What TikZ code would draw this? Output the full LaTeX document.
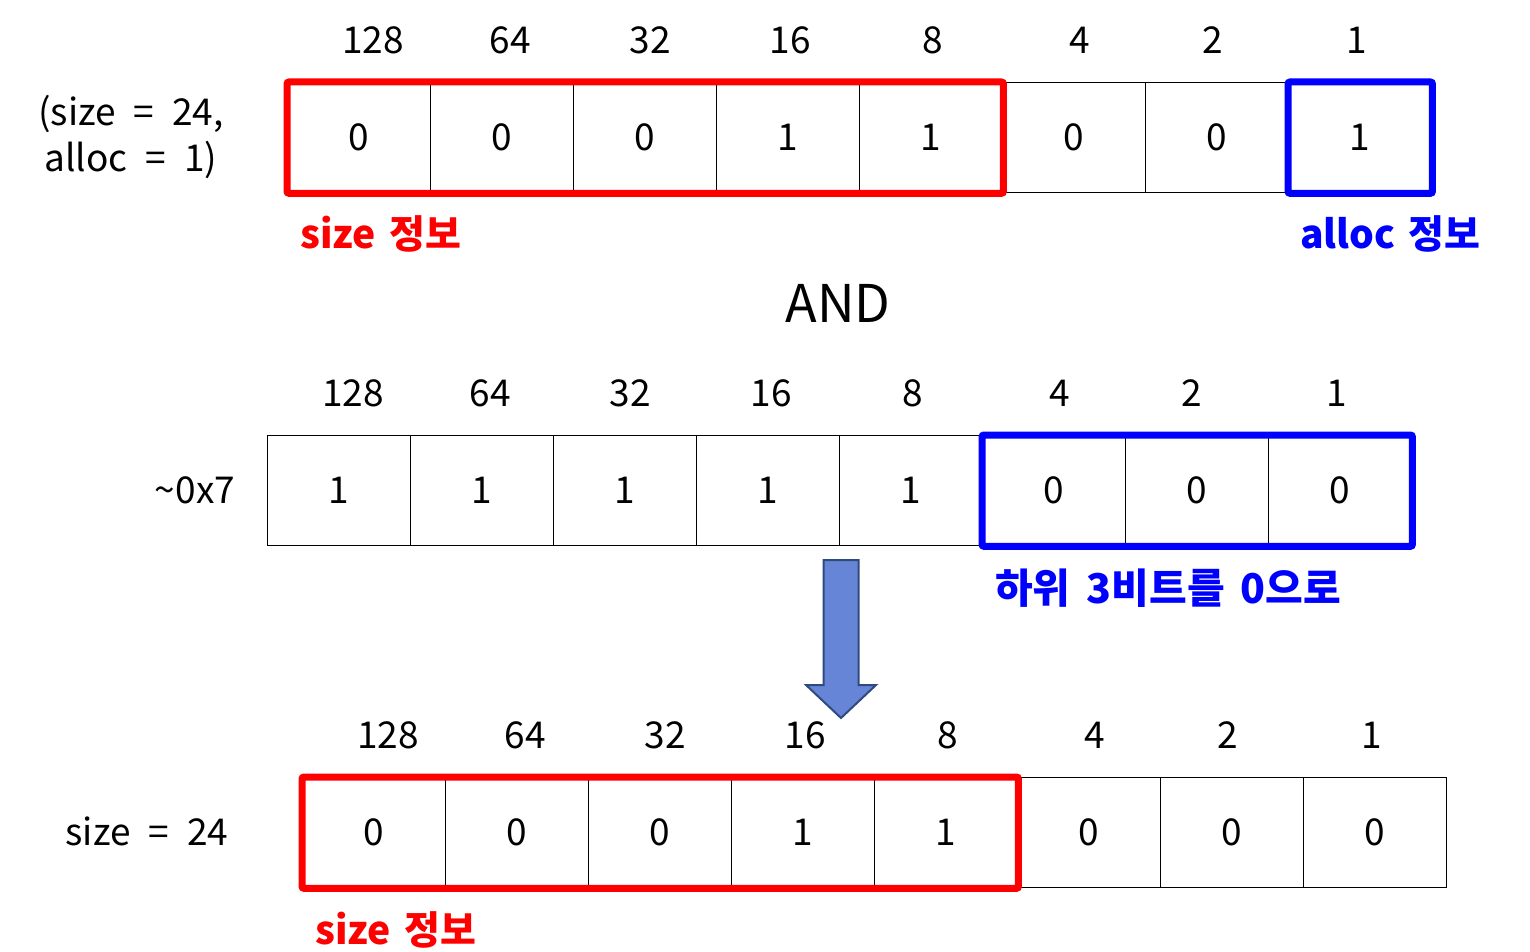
\documentclass[tikz,border=0pt]{standalone}
\usepackage{fontspec}
\setmainfont{Noto Sans CJK KR}
\usetikzlibrary{calc}
\definecolor{myred}{RGB}{255,0,0}
\definecolor{myblue}{RGB}{0,0,255}
\definecolor{arrfill}{RGB}{102,133,214}
\definecolor{arrdraw}{RGB}{47,74,128}
\newcommand{\wsp}{\hspace{13pt}}
\newcommand{\wspb}{\hspace{16pt}}
\newcommand{\esp}{\hspace{18pt}}
\tikzset{
  cell/.style={draw=black, line width=1.3pt, minimum width=143.1pt, minimum height=110pt, inner sep=0pt, anchor=north west, font=\fontsize{37}{40}\selectfont},
  bitnum/.style={font=\fontsize{37}{40}\selectfont, inner sep=0pt},
  lbl/.style={font=\fontsize{37}{46}\selectfont, inner sep=0pt, align=center},
  tagred/.style={font=\fontsize{39}{42}\selectfont\bfseries, text=myred, inner sep=0pt, anchor=west},
  tagblue/.style={font=\fontsize{39}{42}\selectfont\bfseries, text=myblue, inner sep=0pt, anchor=west},
  redbox/.style={draw=myred, line width=7pt, rounded corners=2pt},
  bluebox/.style={draw=myblue, line width=7pt, rounded corners=2pt},
  bigarrow/.style={fill=arrfill, draw=arrdraw, line width=2pt, line join=miter}
}
\begin{document}
\begin{tikzpicture}[x=1pt,y=-1pt]
\useasboundingbox (0,0) rectangle (1530,952);
% row 1
\foreach \v [count=\i] in {0,0,0,1,1,0,0,1} {
  \node[cell] (a\i) at ({287+(\i-1)*143},82) {\v};
}
\foreach \n/\x [count=\i] in {128/373,64/510,32/650,16/790,8/933,4/1080,2/1213,1/1357} {
  \node[bitnum] (na\i) at (\x,40) {\n};
}
\draw[redbox] (a1.north west) rectangle (a5.south east);
\draw[bluebox] (a8.north west) rectangle (a8.south east);
\node[lbl] (lab1) at (131,137) {(size\esp=\esp24,\\alloc\esp=\esp1)};
\node[tagred] (t1) at (300,234) {size\wsp 정보};
\node[tagblue] (t2) at (1300,234) {alloc\wsp 정보};
\node[font=\fontsize{52}{56}\selectfont, inner sep=0pt] (and) at (838,303) {AND};
% row 2
\foreach \v [count=\i] in {1,1,1,1,1,0,0,0} {
  \node[cell] (b\i) at ({267+(\i-1)*143},435) {\v};
}
\foreach \n/\x [count=\i] in {128/353,64/490,32/630,16/771,8/913,4/1060,2/1192,1/1337} {
  \node[bitnum] (nb\i) at (\x,393) {\n};
}
\draw[bluebox] (b6.north west) rectangle (b8.south east);
\node[lbl] (lab2) at (195,490) {\textasciitilde 0x7};
\node[tagblue, font=\fontsize{41}{44}\selectfont\bfseries] (t3) at (995,588) {하위\wspb 3비트를\wspb 0으로};
% arrow
\coordinate (ar) at (841,560);
\draw[bigarrow] ($(ar)+(-17.5,0)$) -- ($(ar)+(17.5,0)$) -- ($(ar)+(17.5,125)$) -- ($(ar)+(35,125)$) -- ($(ar)+(0,158)$) -- ($(ar)+(-35,125)$) -- ($(ar)+(-17.5,125)$) -- cycle;
% row 3
\foreach \v [count=\i] in {0,0,0,1,1,0,0,0} {
  \node[cell] (c\i) at ({302+(\i-1)*143},777) {\v};
}
\foreach \n/\x [count=\i] in {128/388,64/525,32/665,16/805,8/948,4/1095,2/1228,1/1372} {
  \node[bitnum] (nc\i) at (\x,735) {\n};
}
\draw[redbox] (c1.north west) rectangle (c5.south east);
\node[lbl] (lab3) at (147,831) {size\esp=\esp24};
\node[tagred] (t4) at (315,930) {size\wsp 정보};
\end{tikzpicture}
\end{document}
